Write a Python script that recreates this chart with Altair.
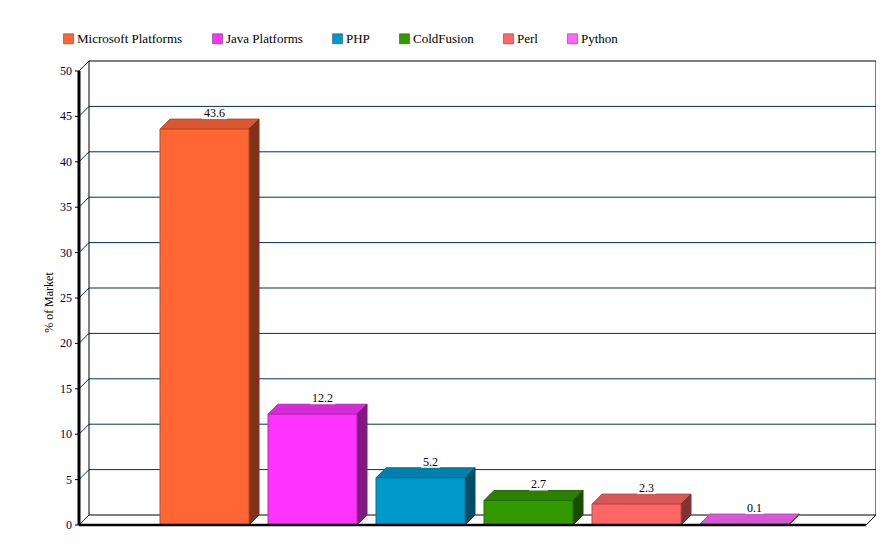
import altair as alt
import pandas as pd

categories = ["Microsoft Platforms", "Java Platforms", "PHP", "ColdFusion", "Perl", "Python"]
shares = [43.6, 12.2, 5.2, 2.7, 2.3, 0.1]
front_colors = ["#FF6633", "#FF33FF", "#0099CC", "#339900", "#FF6666", "#FF66FF"]
top_colors = ["#DB5730", "#D62BD6", "#0080AB", "#2B8000", "#D95757", "#D757D7"]
side_colors = ["#80331A", "#801A80", "#004D66", "#1A4D00", "#803333", "#803380"]
edge_colors = ["#B84A25", "#B824B8", "#006E93", "#246E00", "#B84A4A", "#B84AB8"]
y_ticks = list(range(0, 55, 5))
y_title = "% of Market"

FONT = "Liberation Serif"

# fake-3D geometry, in data units
PX_X = 108.0          # pixels per category slot
PX_Y = 454 / 50       # pixels per percent
BAR_W = 89 / PX_X
DX = 10 / PX_X        # depth, horizontal
DY = 10 / PX_Y        # depth, vertical
X_MIN = -0.75
X_MAX = X_MIN + 797 / PX_X
Y_MAX = 50 + DY

front, faces, labels = [], [], []
for i, (name, v) in enumerate(zip(categories, shares)):
    x0, x1 = i, i + BAR_W
    front.append({"name": name, "x0": x0, "x1": x1, "y0": 0, "y1": v, "edge": edge_colors[i]})
    top = [(x0, v, v), (x0 + DX, v, v + DY), (x1, v, v + DY), (x1 + DX, v + DY, v + DY)]
    side = [(x1, 0, v), (x1 + DX, DY, v + DY)]
    for x, lo, hi in top:
        faces.append({"key": f"{i}-top", "x": x, "lo": lo, "hi": hi, "fill": top_colors[i], "edge": edge_colors[i]})
    for x, lo, hi in side:
        faces.append({"key": f"{i}-side", "x": x, "lo": lo, "hi": hi, "fill": side_colors[i], "edge": side_colors[i]})
    txt = f"{v:g}"
    half = (6 * len(txt) + 1) / 2 / PX_X
    cx = i + BAR_W / 2 + DX
    labels.append({"text": txt, "x": cx, "bx0": cx - half, "bx1": cx + half,
                   "y": v + DY, "by1": v + DY + 12 / PX_Y})

df_front = pd.DataFrame(front)
df_faces = pd.DataFrame(faces)
df_labels = pd.DataFrame(labels)

# back wall grid, left wall connectors, frame
grid = pd.DataFrame([{"x": X_MIN + DX, "x2": X_MAX, "y": t + DY, "y2": t + DY} for t in y_ticks[1:-1]])
links = pd.DataFrame([{"x": X_MIN, "x2": X_MIN + DX, "y": t, "y2": t + DY} for t in y_ticks])
frame = pd.DataFrame([
    {"x": X_MIN + DX, "x2": X_MAX, "y": Y_MAX, "y2": Y_MAX},
    {"x": X_MIN + DX, "x2": X_MIN + DX, "y": DY, "y2": Y_MAX},
    {"x": X_MAX, "x2": X_MAX, "y": DY, "y2": Y_MAX},
    {"x": X_MIN + DX, "x2": X_MAX, "y": DY, "y2": DY},
    {"x": X_MAX - DX, "x2": X_MAX, "y": 0, "y2": DY},
])
floor = pd.DataFrame([{"x": X_MIN, "x2": X_MAX - DX, "y": 0, "y2": 0}])
axis_line = pd.DataFrame([{"x": X_MIN, "x2": X_MIN, "y": 0, "y2": 50}])
ticks = pd.DataFrame([{"x": X_MIN - 4 / PX_X, "x2": X_MIN, "y": t, "y2": t, "label": str(t)} for t in y_ticks])
title_df = pd.DataFrame([{"x": X_MIN - 30 / PX_X, "y": 25 - 0.5, "label": y_title}])

xs = alt.Scale(domain=[X_MIN, X_MAX], nice=False, zero=False)
ys = alt.Scale(domain=[0, Y_MAX], nice=False, zero=False)


def rules(df, color, width):
    return alt.Chart(df).mark_rule(color=color, strokeWidth=width).encode(
        x=alt.X("x:Q", scale=xs, axis=None), x2="x2:Q",
        y=alt.Y("y:Q", scale=ys, axis=None), y2="y2:Q",
    )


bars = alt.Chart(df_front).mark_rect(strokeWidth=1).encode(
    x=alt.X("x0:Q", scale=xs, axis=None), x2="x1:Q",
    y=alt.Y("y1:Q", scale=ys, axis=None), y2="y0:Q",
    color=alt.Color("name:N", scale=alt.Scale(domain=categories, range=front_colors), legend=alt.Legend(
        title=None, orient="none", legendX=-17, legendY=-29, direction="horizontal", columns=6,
        symbolType="square", symbolSize=100, symbolStrokeColor="rgba(0,0,0,0.35)", symbolStrokeWidth=1,
        symbolOpacity=1, labelFont=FONT, labelFontSize=13, labelColor="#000000",
        labelOffset=2, columnPadding=27,
    )),
    stroke=alt.Stroke("edge:N", scale=None),
)

depth = alt.Chart(df_faces).mark_area(orient="vertical", strokeWidth=1, opacity=1).encode(
    x=alt.X("x:Q", scale=xs, axis=None),
    y=alt.Y("hi:Q", scale=ys, axis=None, stack=None), y2="lo:Q",
    detail="key:N",
    fill=alt.Fill("fill:N", scale=None),
    stroke=alt.Stroke("edge:N", scale=None),
)

boxes = alt.Chart(df_labels).mark_rect(color="white").encode(
    x=alt.X("bx0:Q", scale=xs, axis=None), x2="bx1:Q",
    y=alt.Y("y:Q", scale=ys, axis=None), y2="by1:Q",
)

texts = alt.Chart(df_labels).mark_text(font=FONT, fontSize=12, color="#000000", baseline="middle", dy=-6).encode(
    x=alt.X("x:Q", scale=xs, axis=None),
    y=alt.Y("y:Q", scale=ys, axis=None),
    text="text:N",
)

tick_labels = alt.Chart(ticks).mark_text(
    font=FONT, fontSize=12, color="#000033", align="right", baseline="middle", dx=-3
).encode(
    x=alt.X("x:Q", scale=xs, axis=None),
    y=alt.Y("y:Q", scale=ys, axis=None),
    text="label:N",
)

y_title_mark = alt.Chart(title_df).mark_text(
    font=FONT, fontSize=12, color="#000000", angle=270, align="center", baseline="middle"
).encode(
    x=alt.X("x:Q", scale=xs, axis=None),
    y=alt.Y("y:Q", scale=ys, axis=None),
    text="label:N",
)

chart = alt.layer(
    rules(grid, "#00305E", 1),
    rules(links, "#00305E", 1),
    rules(frame, "#000000", 1),
    depth,
    bars,
    rules(floor, "#000000", 2.5),
    rules(axis_line, "#000000", 3),
    rules(ticks, "#000000", 1),
    tick_labels,
    y_title_mark,
    boxes,
    texts,
).properties(
    width=797,
    height=464,
    autosize=alt.AutoSizeParams(type="none"),
    padding={"left": 71, "top": 53, "right": 0, "bottom": 8},
    background="white",
).configure_view(stroke=None)

chart.save("out.html", embed_options={"renderer": "svg", "actions": False})
